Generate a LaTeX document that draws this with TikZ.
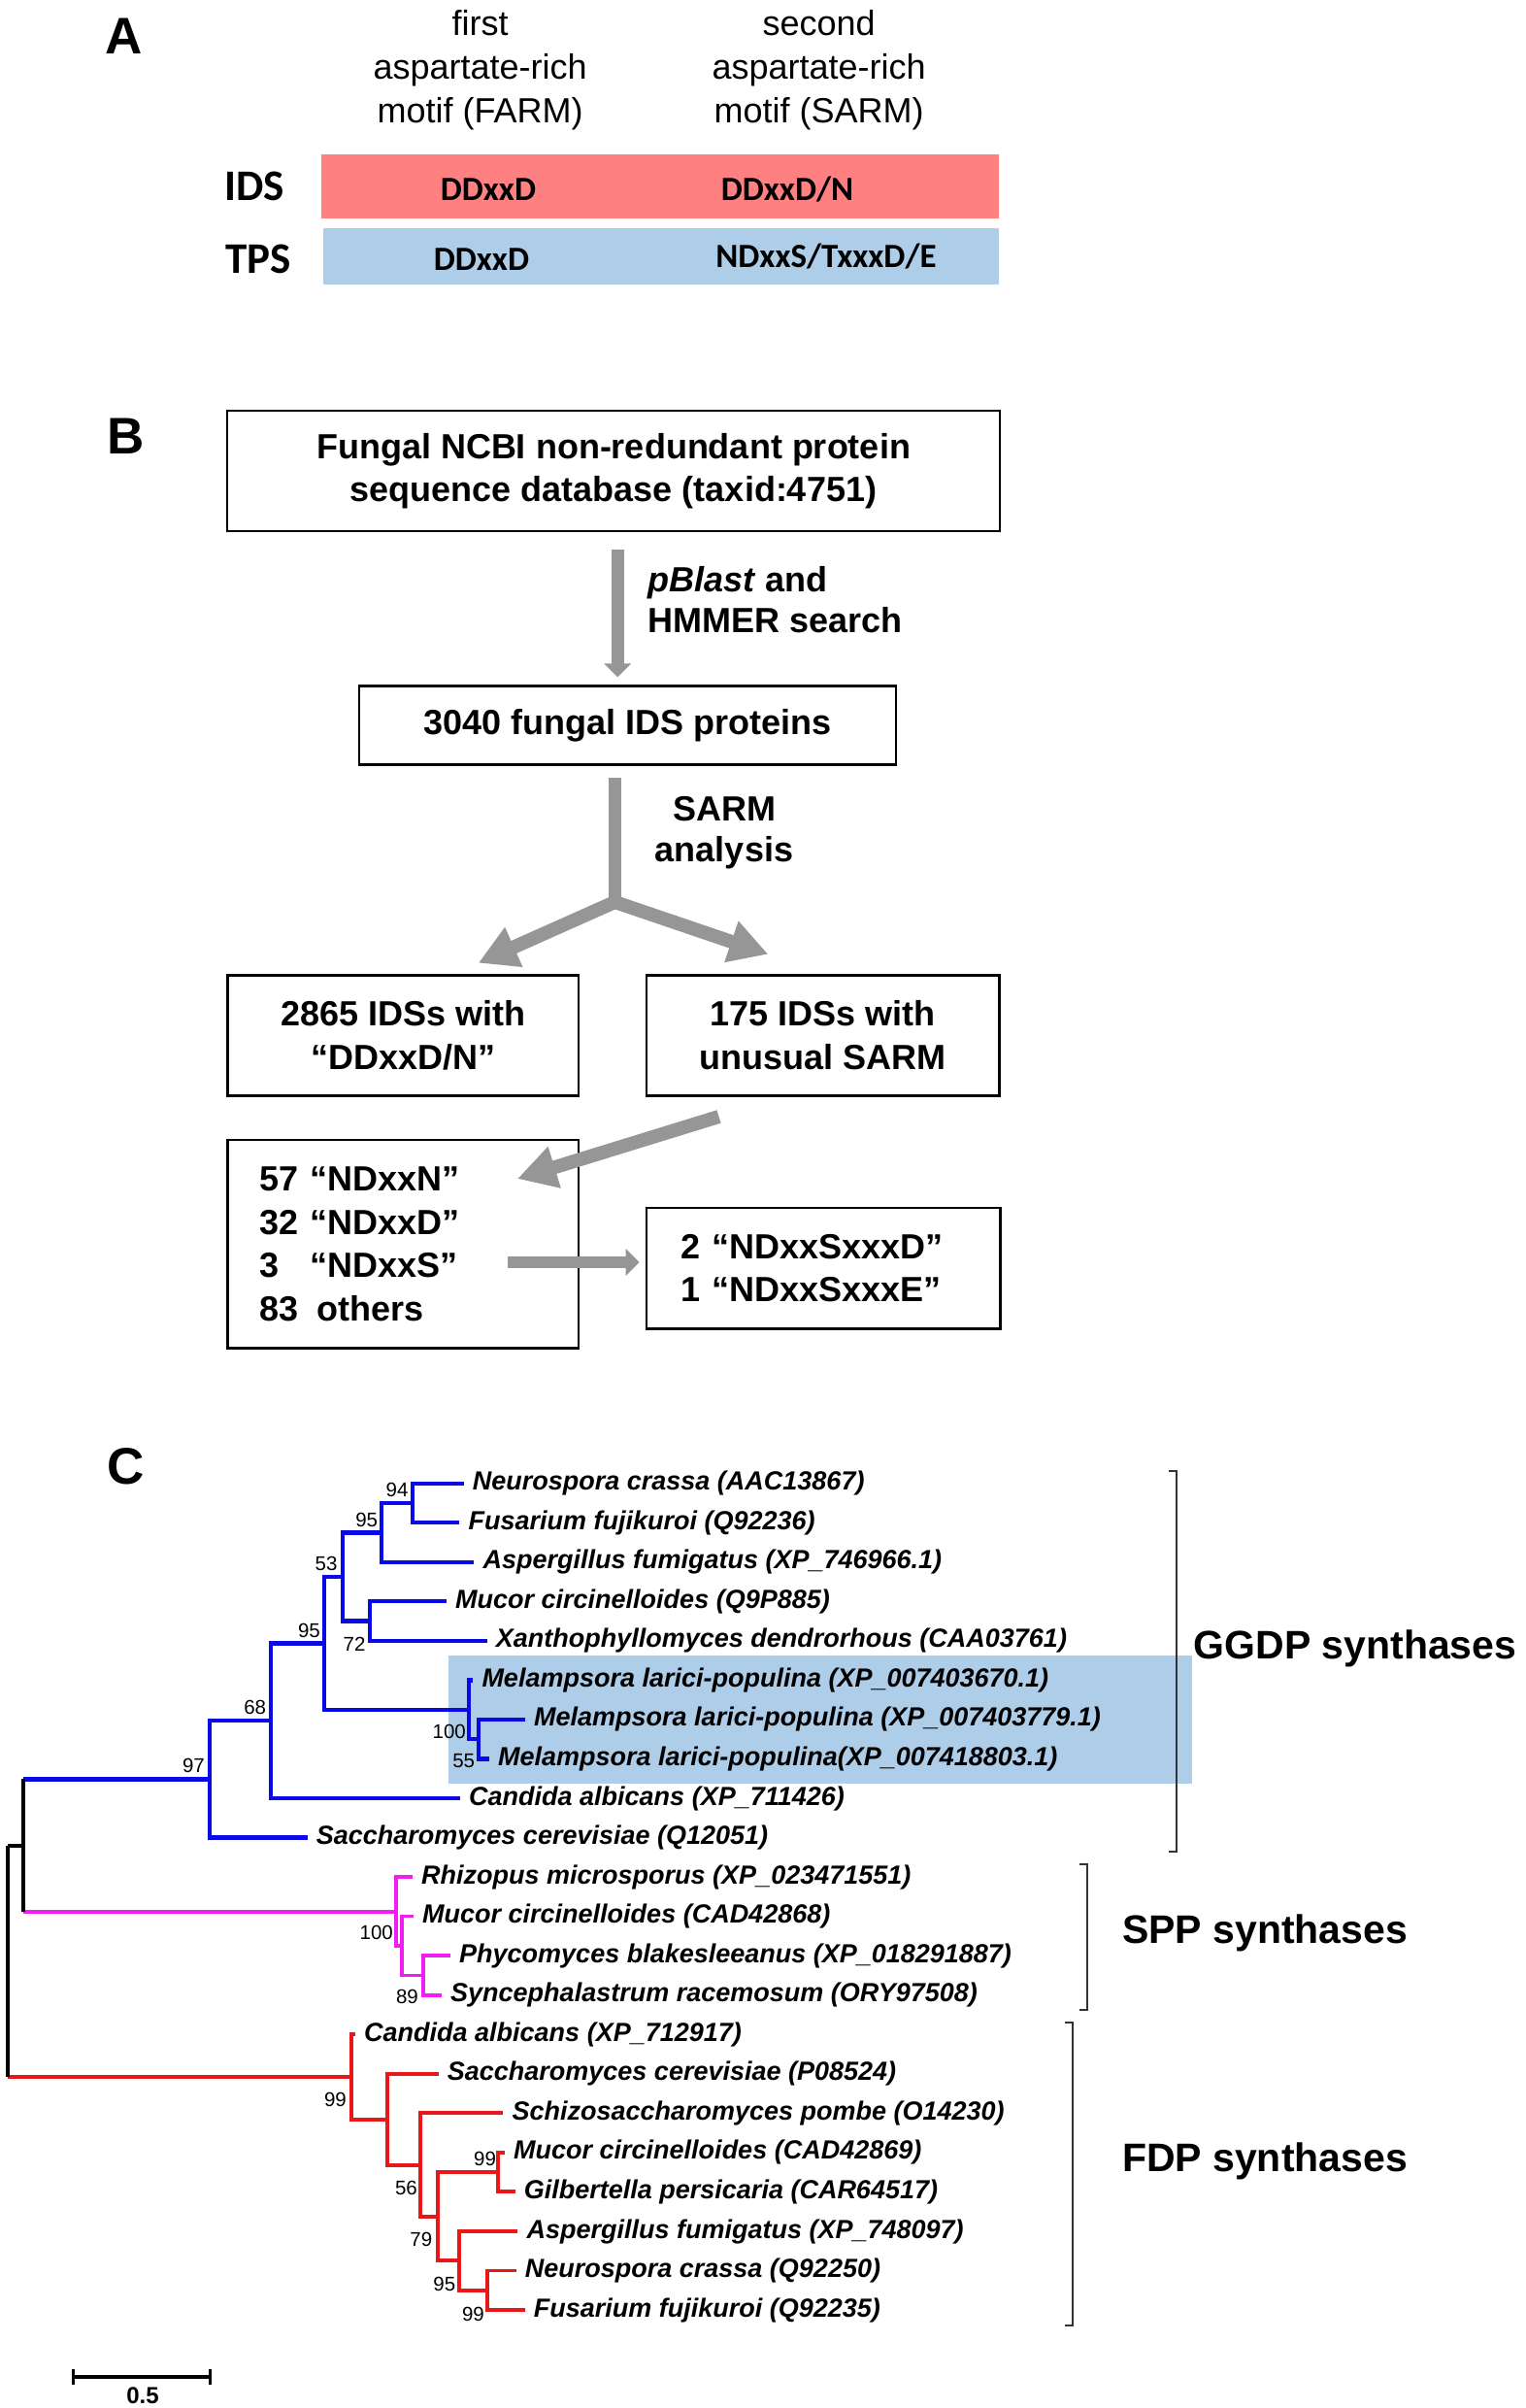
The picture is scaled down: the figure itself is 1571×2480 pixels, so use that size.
\documentclass[tikz,border=0pt]{standalone}
\usepackage{fontspec}
\setmainfont{Liberation Sans}
\newfontfamily\motiffont{Carlito}
\usetikzlibrary{arrows.meta}
\definecolor{idsred}{HTML}{FF8080}
\definecolor{tpsblue}{HTML}{AECDE9}
\definecolor{flowgray}{HTML}{969696}
\definecolor{ggdpblue}{HTML}{0A0AE6}
\definecolor{sppmagenta}{HTML}{F01EF0}
\definecolor{fdpred}{HTML}{E81818}

\begin{document}
\begin{tikzpicture}[x=1pt, y=-1pt,
    panel/.style={font=\fontsize{53}{60}\selectfont\bfseries},
    head/.style={font=\fontsize{36}{45}\selectfont, align=center},
    motif/.style={font=\motiffont\bfseries\fontsize{35}{40}\selectfont},
    box/.style={draw, line width=2.6pt, inner sep=0pt, align=center,
        font=\fontsize{36}{44.5}\selectfont\bfseries},
    flowtext/.style={font=\fontsize{36}{41.6}\selectfont\bfseries},
    flow/.style={flowgray, line width=12.6pt},
    bigtip/.style={flowgray, line width=14pt, -{Triangle[width=42pt,length=40pt]}},
    smalltip/.style={flowgray, line width=12.6pt, -{Triangle[width=27pt,length=14pt]}},
    tax/.style={anchor=west, inner xsep=9pt, inner ysep=0pt,
        font=\fontsize{27}{30}\selectfont\bfseries\itshape},
    boot/.style={anchor=east, inner sep=0pt, font=\fontsize{20.5}{22}\selectfont},
    group/.style={font=\fontsize{41}{46}\selectfont\bfseries},
    bracket/.style={line width=1.6pt, black!80},
    ggdpline/.style={ggdpblue, line width=4.3pt},
    sppline/.style={sppmagenta, line width=3.6pt},
    fdpline/.style={fdpred, line width=3.9pt},
    rootline/.style={black, line width=4.1pt},
]
\path[use as bounding box, fill=white] (0,0) rectangle (1571,2480);

% Panel A: motifs
\node[panel] (labA) at (128,37) {A};
\node[head] (farm) at (494.6,71.7) {first\\aspartate-rich\\motif (FARM)};
\node[head] (sarm) at (843.6,71.7) {second\\aspartate-rich\\motif (SARM)};

\node[fill=idsred, minimum width=698pt, minimum height=66pt, inner sep=0pt] (idsbar) at (680,192) {};
\node[fill=tpsblue, minimum width=696pt, minimum height=58pt, inner sep=0pt] (tpsbar) at (681,264) {};

\node[motif, font=\motiffont\bfseries\fontsize{45}{50}\selectfont] (ids) at (262,192) {IDS};
\node[motif, font=\motiffont\bfseries\fontsize{45}{50}\selectfont] (tps) at (266,267) {TPS};
\node[motif] (idsfarm) at (503,195) {DDxxD};
\node[motif] (idssarm) at (811,195) {DDxxD/N};
\node[motif] (tpsfarm) at (496,267) {DDxxD};
\node[motif] (tpssarm) at (851,264) {NDxxS/TxxxD/E};

% Panel B: search pipeline
\node[panel] (labB) at (130,449) {B};
\node[box, minimum width=796pt, minimum height=124pt] (fungal) at (632,485)
    {Fungal NCBI non-redundant protein\\sequence database (taxid:4751)};
\node[box, minimum width=553pt, minimum height=80.6pt] (ids3040) at (646.5,747)
    {3040 fungal IDS proteins};
\node[box, minimum width=361.7pt, minimum height=124pt] (usual) at (415.3,1066.3)
    {2865 IDSs with\\“DDxxD/N”};
\node[box, minimum width=363.4pt, minimum height=124pt] (unusual) at (847.8,1066.3)
    {175 IDSs with\\unusual SARM};
\node[box, minimum width=361.7pt, minimum height=214.3pt, inner xsep=33.3pt,
    text width=295pt, align=left] (counts) at (415.3,1281.2)
    {57 “NDxxN”\\32 “NDxxD”\\3\phantom{3} “NDxxS”\\83\hspace{0.53em}others};
\node[box, minimum width=364.4pt, minimum height=124.3pt, inner xsep=35.3pt,
    text width=293.8pt, align=left] (ndxxs) at (848.2,1306.2)
    {2 “NDxxSxxxD”\\1 “NDxxSxxxE”};

% Arrows
\draw[smalltip, shorten <=18pt, shorten >=8pt] ([xshift=4.3pt]fungal.south) -- ([xshift=-10.2pt]ids3040.north);
\node[flowtext, anchor=west, align=left] (blast) at (663.8,617.5) {\textit{pBlast} and\\HMMER search};

\coordinate (split) at (633.4,929);
\draw[flow, shorten <=12.7pt, shorten >=-4pt] ([xshift=-13.1pt]ids3040.south) -- (split);
\node[flowtext, align=center] (sarmlab) at (746,857.5) {SARM\\analysis};

\coordinate (tipL) at (492.8,991.7);
\coordinate (tipR) at (791.3,982.7);
\draw[bigtip] (split) -- (tipL);
\draw[bigtip] (split) -- (tipR);

\coordinate (from175) at (740.5,1150);
\coordinate (tip57) at (533,1214);
\draw[bigtip] (from175) -- (tip57);

\draw[smalltip] ([xshift=-74.6pt,yshift=-18.8pt]counts.east) -- ([xshift=-6pt,yshift=6.2pt]ndxxs.west);

% Panel C: tree
\node[panel] (labC) at (130,1510) {C};
\fill[tpsblue] (462,1705) rectangle (1228,1837);

% Taxa
\foreach \i/\tx/\ty/\tname in {
    1/477.7/1527.7/{Neurospora crassa (AAC13867)},
    2/473.3/1568.2/{Fusarium fujikuroi (Q92236)},
    3/488.3/1608.8/{Aspergillus fumigatus (XP\_746966.1)},
    4/460/1649.3/{Mucor circinelloides (Q9P885)},
    5/501.7/1689.9/{Xanthophyllomyces dendrorhous (CAA03761)},
    6/487.3/1730.4/{Melampsora larici-populina (XP\_007403670.1)},
    7/541/1770.9/{Melampsora larici-populina (XP\_007403779.1)},
    8/504/1811.5/{Melampsora larici-populina(XP\_007418803.1)},
    9/474/1852.0/{Candida albicans (XP\_711426)},
    10/316.7/1892.6/{Saccharomyces cerevisiae (Q12051)},
    11/425/1933.1/{Rhizopus microsporus (XP\_023471551)},
    12/426/1973.6/{Mucor circinelloides (CAD42868)},
    13/464/2014.2/{Phycomyces blakesleeanus (XP\_018291887)},
    14/455/2054.7/{Syncephalastrum racemosum (ORY97508)},
    15/366/2095.3/{Candida albicans (XP\_712917)},
    16/451.7/2135.8/{Saccharomyces cerevisiae (P08524)},
    17/518.3/2176.3/{Schizosaccharomyces pombe (O14230)},
    18/520/2216.9/{Mucor circinelloides (CAD42869)},
    19/530.7/2257.4/{Gilbertella persicaria (CAR64517)},
    20/533.3/2298.0/{Aspergillus fumigatus (XP\_748097)},
    21/531.7/2338.5/{Neurospora crassa (Q92250)},
    22/540.7/2379.0/{Fusarium fujikuroi (Q92235)}}
    \node[tax] (l\i) at (\tx,\ty) {\tname};

% Inner nodes
\coordinate (n94) at (425,1548.0);
\coordinate (n95u) at (393.3,1578.4);
\coordinate (n72) at (381,1669.6);
\coordinate (n53) at (352.7,1624.0);
\coordinate (n55) at (493.3,1791.2);
\coordinate (n100) at (483.3,1760.8);
\coordinate (n95l) at (334.3,1692.4);
\coordinate (n68) at (279.3,1772.2);
\coordinate (n97) at (215.7,1832.4);
\coordinate (n89) at (436,2034.5);
\coordinate (nsm) at (414,2004.0);
\coordinate (n100s) at (408,1968.8);
\coordinate (n99nf) at (502.3,2358.8);
\coordinate (n95f) at (473.3,2328.4);
\coordinate (n99mg) at (513.3,2237.2);
\coordinate (n79) at (450.7,2282.8);
\coordinate (n56) at (433.3,2229.6);
\coordinate (nsc) at (399.3,2182.7);
\coordinate (n99f) at (361.7,2139.0);
\coordinate (n1) at (24,1900.6);
\coordinate (root) at (8.3,2019.8);

% GGDP branches
\draw[ggdpline] (n94) |- (l1.west) (n94) |- (l2.west);
\draw[ggdpline] (n95u) |- (n94) (n95u) |- (l3.west);
\draw[ggdpline] (n72) |- (l4.west) (n72) |- (l5.west);
\draw[ggdpline] (n53) |- (n95u) (n53) |- (n72);
\draw[ggdpline] (n55) |- (l7.west) (n55) |- (l8.west);
\draw[ggdpline] (n100) |- (l6.west) (n100) |- (n55);
\draw[ggdpline] (n95l) |- (n53) (n95l) |- (n100);
\draw[ggdpline] (n68) |- (n95l) (n68) |- (l9.west);
\draw[ggdpline] (n97) |- (n68) (n97) |- (l10.west);
\draw[ggdpline] (n1 |- n97) -- (n97);

% SPP branches
\draw[sppline] (n89) |- (l13.west) (n89) |- (l14.west);
\draw[sppline] (nsm) |- (l12.west) (nsm) |- (n89);
\draw[sppline] (n100s) |- (l11.west) (n100s) |- (nsm);
\draw[sppline] (n1 |- n100s) -- (n100s);

% FDP branches
\draw[fdpline] (n99nf) |- (l21.west) (n99nf) |- (l22.west);
\draw[fdpline] (n95f) |- (l20.west) (n95f) |- (n99nf);
\draw[fdpline] (n99mg) |- (l18.west) (n99mg) |- (l19.west);
\draw[fdpline] (n79) |- (n99mg) (n79) |- (n95f);
\draw[fdpline] (n56) |- (l17.west) (n56) |- (n79);
\draw[fdpline] (nsc) |- (l16.west) (nsc) |- (n56);
\draw[fdpline] (n99f) |- (l15.west) (n99f) |- (nsc);
\draw[fdpline] (root |- n99f) -- (n99f);

% Root
\draw[rootline] (n1 |- n97) -- (n1 |- n100s);
\draw[rootline] (root |- n1) -- (root |- n99f);
\draw[rootline] (root |- n1) -- (n1);

% Bootstrap values
\foreach \v/\bx/\by [count=\k] in {94/420.7/1534.3, 95/389.3/1565, 53/347.7/1610.7,
    72/376.7/1693.3, 95/330/1679, 68/274.3/1758.3, 100/480/1783.3, 55/489.3/1813.3,
    97/211/1818.3, 100/405/1990, 89/431/2056, 99/357/2162.7, 56/430/2253,
    79/445.4/2306, 99/511.2/2223.5, 95/469.4/2352.3, 99/499/2383}
    \node[boot] (b\k) at (\bx,\by) {\v};

% Groups
\draw[bracket] (1204,1515) -- (1212,1515) -- (1212,1907) -- (1204,1907);
\draw[bracket] (1112,1920) -- (1120,1920) -- (1120,2070) -- (1112,2070);
\draw[bracket] (1097,2083) -- (1105,2083) -- (1105,2395) -- (1097,2395);
\node[group] (ggdp) at (1396,1698) {GGDP synthases};
\node[group] (spp) at (1303,1991) {SPP synthases};
\node[group] (fdp) at (1303,2226) {FDP synthases};

% Scale bar
\draw[line width=3.2pt] (75.5,2448) -- (216.8,2448);
\draw[line width=3.2pt] (75.5,2440) -- (75.5,2456) (216.8,2440) -- (216.8,2456);
\node[font=\fontsize{24}{26}\selectfont\bfseries] (scale) at (147,2467) {0.5};
\end{tikzpicture}
\end{document}
